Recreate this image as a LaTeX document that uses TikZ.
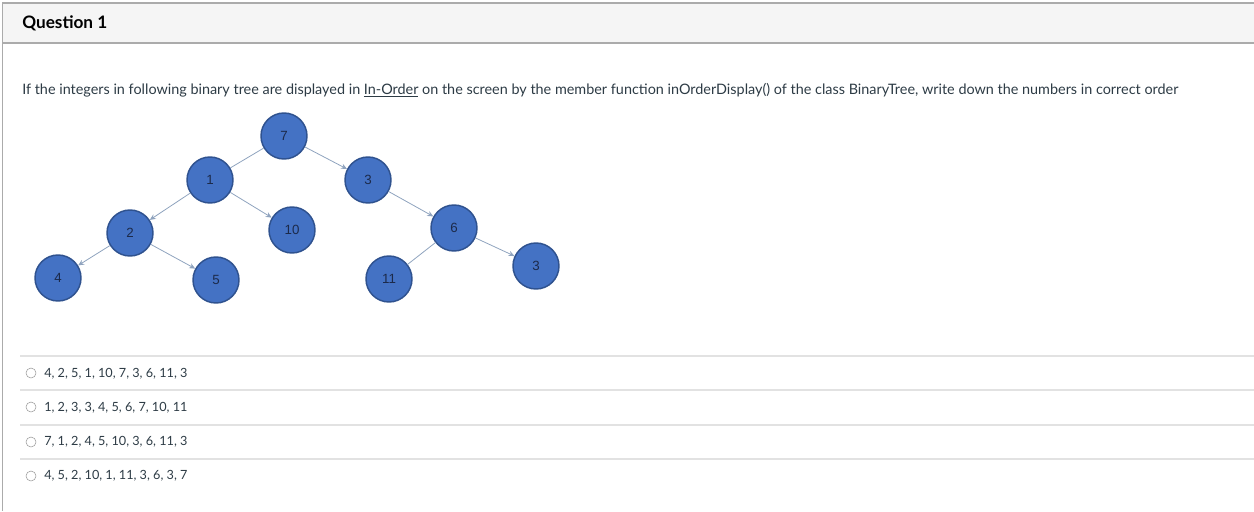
\documentclass[tikz,border=0pt]{standalone}
\usepackage{fontspec}
\setmainfont{Lato}
\newfontfamily\numfont{Liberation Sans}
\usetikzlibrary{arrows.meta}
\definecolor{nodefill}{HTML}{4472C4}
\definecolor{nodeline}{HTML}{2F528F}
\definecolor{edgecol}{HTML}{8FA3BE}
\definecolor{headbg}{HTML}{F5F5F5}
\definecolor{rulecol}{HTML}{ABABAB}
\definecolor{sepcol}{HTML}{E2E2E2}
\definecolor{numcol}{HTML}{1C2A4A}
\definecolor{textcol}{HTML}{2D3B45}
\tikzset{
  tnode/.style={circle,fill=nodefill,draw=nodeline,line width=1.1pt,minimum size=34.5pt,inner sep=0pt,text=numcol,font=\numfont\fontsize{10}{11}\selectfont},
  tedge/.style={draw=edgecol,line width=0.6pt},
  tarrow/.style={tedge,-{Stealth[length=4.5pt,width=4pt]}},
  bodytext/.style={anchor=base west,inner sep=0pt,text=textcol,font=\fontsize{10.8}{12}\selectfont},
  opttext/.style={bodytext,font=\fontsize{9.5}{11}\selectfont},
  radio/.style={circle,draw=gray!80,line width=0.4pt,minimum size=7.5pt,inner sep=0pt}
}
\begin{document}
\begin{tikzpicture}[x=0.75pt,y=-0.75pt]
\useasboundingbox (0,0) rectangle (1254,511);
% header panel
\fill[headbg] (2.5,3) rectangle (1254,43);
\draw[rulecol,line width=1pt] (1254,3) -- (2.5,3) -- (2.5,511);
\draw[rulecol,line width=1pt] (2.5,43) -- (1254,43);
\node[anchor=base west,inner sep=0pt,font=\bfseries\fontsize{12.9}{14}\selectfont] (title) at (22,28) {Question 1};
\node[bodytext] (question) at (22,94.5) {If the integers in following binary tree are displayed in \underline{In-Order} on the screen by the member function inOrderDisplay() of the class BinaryTree, write down the numbers in correct order};

% tree
\node[tnode] (n7) at (284,136) {7};
\node[tnode] (n1) at (210,180) {1};
\node[tnode] (n3) at (368,180) {3};
\node[tnode] (n2) at (130,233) {2};
\node[tnode] (n10) at (292,230) {10};
\node[tnode] (n6) at (454,228) {6};
\node[tnode] (n4) at (58,278) {4};
\node[tnode] (n5) at (216,280) {5};
\node[tnode] (n11) at (389,279) {11};
\node[tnode] (n3b) at (536,266) {3};

\draw[tedge] (n7) -- (n1);
\draw[tedge] (n6) -- (n11);
\foreach \a/\b in {n7/n3,n1/n2,n1/n10,n2/n4,n2/n5,n3/n6,n6/n3b}
{
	\draw[tarrow] (\a) -- (\b);
}

% answer choices
\foreach \y/\k in {356/1,390/2,425/3,459/4}
{
	\draw[sepcol,line width=0.8pt] (20,\y) -- (1254,\y);
	\node[radio] (r\k) at (31,\y+17) {};
}
\node[opttext] (opt1) at (44,377) {4, 2, 5, 1, 10, 7, 3, 6, 11, 3};
\node[opttext] (opt2) at (44,411) {1, 2, 3, 3, 4, 5, 6, 7, 10, 11};
\node[opttext] (opt3) at (44,445) {7, 1, 2, 4, 5, 10, 3, 6, 11, 3};
\node[opttext] (opt4) at (44,479) {4, 5, 2, 10, 1, 11, 3, 6, 3, 7};
\end{tikzpicture}
\end{document}
